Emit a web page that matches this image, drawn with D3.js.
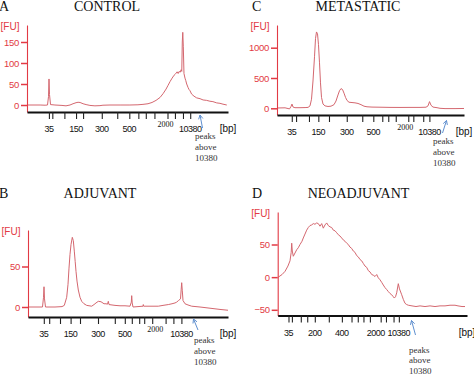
<!DOCTYPE html>
<html><head><meta charset="utf-8">
<script src="https://cdn.jsdelivr.net/npm/d3@7"></script>
<style>
html,body{margin:0;padding:0;background:#fff;}
svg{display:block;}
</style>
</head><body>
<svg id="chart" width="474" height="374"></svg>
<script>
// ---------------- DATA ----------------
// Bioanalyzer HS DNA ladder (bp) and the migration time (s) at which each marker sits per run
const bpLadder = [35, 50, 100, 150, 200, 300, 400, 500, 600, 700, 1000, 2000, 3000, 7000, 10380];
const ladderTimeA = [40.9, 42.6, 48.6, 54.4, 57.9, 67.2, 74.9, 80.9, 85.4, 89.1, 93.4, 99.9, 103.6, 107.6, 111.2];
const ladderTimeB = [37.9, 40.6, 46.0, 51.3, 56.0, 65.0, 73.4, 78.4, 81.9, 85.6, 88.1, 92.1, 98.8, 102.7, 106.7];
const ladderTimeC = [37.9, 40.2, 47.1, 52.1, 57.8, 67.3, 75.6, 81.5, 86.3, 89.5, 93.5, 100.2, 102.9, 108.2, 111.5];
const ladderTimeD = [35.7, 37.5, 42.2, 45.6, 49.6, 57.0, 63.9, 69.0, 72.3, 75.3, 78.7, 84.4, 87.2, 91.2, 94.0];

const labelBpStd = [35, 150, 300, 500, 2000, 10380];
const labelBpD = [35, 200, 400, 2000, 10380];

const yTicksA = [0, 50, 100, 150];
const yTicksB = [0, 50];
const yTicksC = [0, 500, 1000];
const yTicksD = [-50, 0, 50];

const titles = ["CONTROL", "ADJUVANT", "METASTATIC", "NEOADJUVANT"];
const letters = ["A", "B", "C", "D"];
const noteLines = ["peaks", "above", "10380"];

// electropherogram traces: [time (s), fluorescence (FU)]
const traceA = [
  [30.0,0],[36.5,0],[39.0,-0.5],[40.2,0],[40.7,20],[40.95,62],[41.2,25],[41.7,1],[43.9,0],
  [47.4,-1],[49.4,-2],[51.4,0],[52.9,3],[54.4,5.5],[55.4,6.5],[56.4,6],[57.9,3],[59.4,1],
  [61.3,-1],[63.8,-2],[66.3,-1.5],[67.8,-0.5],[71.3,0],[76.3,0],[81.2,0],[85.2,0.5],[87.7,1.5],
  [90.2,3],[92.2,6],[94.2,11],[96.2,18],[97.7,27],[99.2,38],[100.2,47],[101.2,56],[102.2,64],
  [103.2,71],[103.7,73],[104.2,76],[104.7,79],[105.2,75],[105.7,80],[106.2,78],[106.7,84],
  [107.0,80],[107.26,150],[107.5,173],[107.76,140],[108.1,75],[108.6,64],[109.0,58],[109.45,50],
  [110.1,42],[110.6,37],[111.1,34],[111.9,26],[113.1,21],[114.4,17],[116.1,15],[117.6,12],
  [119.4,11],[121.0,9],[122.5,8],[124.4,5],[126.0,4],[127.5,2],[129.4,0]
];
const traceB = [
  [30,0],[35,0],[37.25,0],[37.75,12],[38,25],[38.25,10],[38.75,0],[43.5,0],[47,0.5],[48.15,2],
  [49.35,12],[50,28],[50.5,48],[51,65],[51.5,77],[52.15,86],[52.65,82],[53.15,69],[53.6,56],
  [54,44],[54.5,32],[55.15,21],[56,12],[56.85,7],[58,4],[59.35,2],[61.85,1],[63,3],[64,5],
  [65.15,7],[66.5,6.5],[68,4],[69,4],[69.75,3.5],[70.15,7],[70.5,3],[72,2.5],[73.5,2],[76,1.5],
  [78.5,1.5],[81,1],[81.65,6],[81.85,14],[82.1,5],[82.5,0],[85,0.5],[87.5,1],[87.65,3],[87.85,1],
  [91,1],[95.15,1],[97.5,2],[100.15,3],[102,4],[103.5,5],[104.35,6],[105.25,8],[106.25,10],
  [106.6,22],[106.85,30],[107.15,20],[107.5,8],[108.5,4],[110,2.5],[111.85,1],[116,0],[121,-1.5],
  [126,-3],[130,-4]
];
const traceC = [
  [30.0,5],[34.3,8],[36.7,-10],[37.5,30],[38.0,70],[38.6,20],[39.6,10],[42.3,10],[45.0,12],
  [46.6,15],[47.65,40],[48.45,150],[49.25,450],[50.06,850],[50.59,1150],[51.12,1260],[51.66,1230],
  [52.19,1050],[52.73,750],[53.26,420],[53.8,180],[54.6,70],[55.67,40],[57.27,30],[58.88,35],
  [60.48,60],[61.55,120],[62.62,220],[63.43,290],[64.23,325],[65.03,310],[65.83,250],[66.64,180],
  [67.44,130],[68.51,100],[70.11,95],[71.71,90],[73.32,80],[74.92,60],[76.53,35],[78.13,25],
  [80.81,20],[85.08,18],[90.43,15],[95.78,14],[101.13,15],[106.48,15],[109.69,18],[110.76,40],
  [111.56,110],[112.36,50],[113.43,20],[115.57,10],[117.17,0],[119.85,-5],[125.2,-5],[130.0,-3]
];
const traceD = [
  [30.3,0],[32.3,4],[33.9,9],[35.4,17],[36.5,25],[37.13,38],[37.4,52],[37.71,40],[38.24,32],
  [39.14,37],[40.04,42],[40.88,45],[41.78,50],[42.84,55],[43.52,60],[44.42,66],[45.32,72],
  [46.16,76],[47.06,79],[47.96,80],[48.81,82],[49.7,81],[50.6,83],[51.45,82],[52.35,78],
  [53.24,82],[54.09,75],[54.99,80],[55.88,83],[56.73,79],[57.63,77],[58.53,76],[59.37,72],
  [60.27,71],[61.17,68],[62.01,65],[62.91,63],[63.81,60],[64.65,57],[65.55,55],[66.45,52],
  [67.3,50],[68.19,46],[69.09,44],[69.94,40],[70.83,38],[71.73,33],[72.58,31],[73.48,27],
  [74.37,25],[75.22,21],[76.12,17],[77.01,15],[77.86,10],[78.76,8],[79.66,4],[80.5,3],[81.4,1],
  [82.3,4],[83.14,-1],[84.04,-4],[84.94,-8],[85.78,-12],[86.68,-16],[87.58,-19],[88.42,-22],
  [89.32,-25],[90.22,-27],[91.07,-30],[91.6,-32],[92.23,-30],[92.86,-24],[93.71,-10],[94.34,-18],
  [95.51,-27],[96.35,-34],[97.25,-40],[98.15,-42],[98.99,-43],[100.95,-44],[103.06,-45],
  [105.18,-44],[107.82,-45],[110.46,-44],[113.1,-45],[115.74,-44],[118.38,-44],[121.02,-43],
  [123.66,-43],[125.25,-44],[127.36,-45],[128.95,-45]
];

// ---------------- LAYOUT ----------------
const panels = [
  {letter: letters[0], title: titles[0], trace: traceA, ladder: ladderTimeA, labels: labelBpStd, yTicks: yTicksA,
   x0: 27, x1: 228, top: 25, axisY: 112, yRef: [0,150], yRefPx: [105,42], titleY: 11, titleX: 107, letterX: -1,
   small2000: true, dx2000: -2, noteX: 195, noteY: 139, arrow: [[202.5,128],[200,115]]},
  {letter: letters[1], title: titles[1], trace: traceB, ladder: ladderTimeB, labels: labelBpStd, yTicks: yTicksB,
   x0: 28, x1: 228, top: 230, axisY: 317, yRef: [0,50], yRefPx: [307,266.5], titleY: 198, titleX: 100, letterX: -1,
   small2000: true, dx2000: 3, noteX: 194, noteY: 343, arrow: [[198,330],[193.5,319]]},
  {letter: letters[2], title: titles[2], trace: traceC, ladder: ladderTimeC, labels: labelBpStd, yTicks: yTicksC,
   x0: 277, x1: 464, top: 25, axisY: 115, yRef: [0,1000], yRefPx: [108.3,47.7], titleY: 11, titleX: 358, letterX: 252,
   small2000: true, dx2000: -3, noteX: 433, noteY: 144, arrow: [[442.5,133],[446.5,120.5]]},
  {letter: letters[3], title: titles[3], trace: traceD, ladder: ladderTimeD, labels: labelBpD, yTicks: yTicksD,
   x0: 277.7, x1: 467, top: 212, axisY: 315.5, yRef: [-50,50], yRefPx: [309.8,244.5], titleY: 198, titleX: 358.5, letterX: 252,
   small2000: false, dx2000: -5, noteX: 409, noteY: 352.5, arrow: [[415.5,335],[411.5,320.5]]}
];

const RED = "#e23a44";
const TRACE = "#d4676f";
const SANS = "'Liberation Sans', Arial, sans-serif";
const SERIF = "'Liberation Serif', 'Times New Roman', serif";

const svg = d3.select("#chart");

panels.forEach(cfg => {
  const g = svg.append("g");
  const x = d3.scaleLinear().domain([30, 130]).range([cfg.x0, cfg.x1]);
  const yRef = d3.scaleLinear().domain(cfg.yRef).range(cfg.yRefPx);
  const y = d3.scaleLinear().domain([yRef.invert(cfg.axisY), yRef.invert(cfg.top)]).range([cfg.axisY, cfg.top]);

  // titles
  g.append("text").attr("x", cfg.letterX).attr("y", cfg.titleY).text(cfg.letter)
    .attr("font-family", SERIF).attr("font-size", 14).attr("fill", "#111");
  g.append("text").attr("x", cfg.titleX).attr("y", cfg.titleY).attr("text-anchor", "middle").text(cfg.title)
    .attr("font-family", SERIF).attr("font-size", 14).attr("fill", "#111");

  // trace
  g.append("path").datum(cfg.trace)
    .attr("d", d3.line().x(d => x(d[0])).y(d => y(d[1])))
    .attr("fill", "none").attr("stroke", TRACE).attr("stroke-width", 1).attr("stroke-linejoin", "round");

  // y axis
  const ya = g.append("g").attr("transform", `translate(${cfg.x0},0)`)
    .call(d3.axisLeft(y).tickValues(cfg.yTicks).tickSize(6).tickSizeOuter(0).tickPadding(2).tickFormat(d3.format("d")));
  ya.select(".domain").attr("stroke", RED).attr("stroke-width", 1.1);
  ya.selectAll(".tick line").attr("stroke", RED).attr("stroke-width", 1.5);
  ya.selectAll(".tick text").attr("fill", RED).attr("font-family", SANS).attr("font-size", 9.5).attr("letter-spacing", "-0.3px");
  g.append("text").attr("x", cfg.x0 - 17).attr("y", cfg.top + 5).attr("text-anchor", "middle").text("[FU]")
    .attr("fill", RED).attr("font-family", SANS).attr("font-size", 10);

  // x axis
  const xa = g.append("g").attr("transform", `translate(0,${cfg.axisY})`)
    .call(d3.axisBottom(x).tickValues(cfg.ladder).tickSize(7).tickSizeOuter(0).tickFormat(""));
  xa.select(".domain").attr("stroke", "#111").attr("stroke-width", 1.8);
  xa.selectAll(".tick line").attr("stroke", "#222").attr("stroke-width", 1.1);

  cfg.labels.forEach(bp => {
    const t = cfg.ladder[bpLadder.indexOf(bp)];
    const isSmall = bp === 2000 && cfg.small2000;
    g.append("text")
      .attr("x", x(t) + (bp === 2000 ? cfg.dx2000 : 0))
      .attr("y", cfg.axisY + (isSmall ? 15 : 20))
      .attr("text-anchor", "middle")
      .attr("font-family", isSmall ? SERIF : SANS)
      .attr("font-size", isSmall ? 8 : 9)
      .attr("letter-spacing", isSmall ? "0px" : "-0.5px")
      .attr("fill", "#111")
      .text(bp);
  });
  g.append("text").attr("x", cfg.x1).attr("y", cfg.axisY + 20).attr("text-anchor", "middle").text("[bp]")
    .attr("fill", "#111").attr("font-family", SANS).attr("font-size", 10);

  // note + arrow
  noteLines.forEach((s, i) => {
    g.append("text").attr("x", cfg.noteX).attr("y", cfg.noteY + i * 10.8).text(s)
      .attr("font-family", SERIF).attr("font-size", 9).attr("fill", "#333");
  });
  const [p0, p1] = cfg.arrow;
  const ang = Math.atan2(p1[1] - p0[1], p1[0] - p0[0]);
  const hl = 4.5;
  g.append("path")
    .attr("d", `M${p0[0]},${p0[1]}L${p1[0]},${p1[1]}` +
      `M${p1[0] - hl * Math.cos(ang - 0.5)},${p1[1] - hl * Math.sin(ang - 0.5)}L${p1[0]},${p1[1]}` +
      `L${p1[0] - hl * Math.cos(ang + 0.5)},${p1[1] - hl * Math.sin(ang + 0.5)}`)
    .attr("fill", "none").attr("stroke", "#5f8fcf").attr("stroke-width", 1);
});
</script>
</body></html>
